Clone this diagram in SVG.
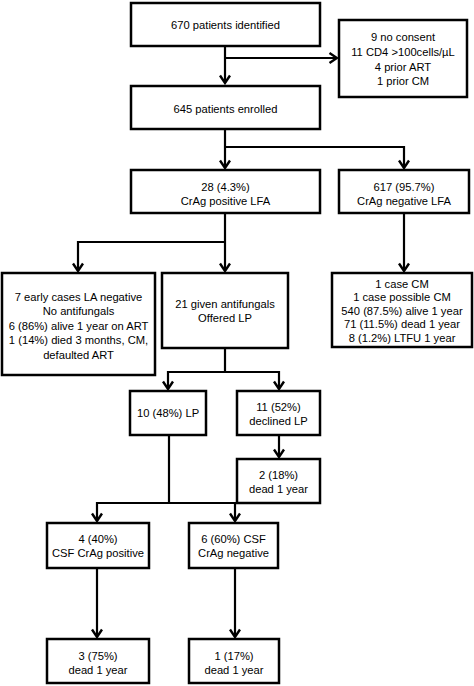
<svg xmlns="http://www.w3.org/2000/svg" width="474" height="686" viewBox="0 0 474 686">
<style>
.box{fill:#fff;stroke:#000;stroke-width:2.5}
text{font-family:"Liberation Sans",Arial,sans-serif;font-size:11.2px;fill:#000;text-anchor:middle}
.c{fill:none;stroke:#000;stroke-width:2.2}
</style>
<defs>
<marker id="ah" viewBox="-10 -6 12 12" refX="0" refY="0" markerWidth="12" markerHeight="12" markerUnits="userSpaceOnUse" orient="auto">
<path d="M-7.5,-5 L0,0 L-7.5,5" fill="none" stroke="#000" stroke-width="2.4"/>
</marker>
</defs>
<rect width="474" height="686" fill="#fff"/>
<g id="connectors">
<path class="c" d="M225,46 V83" marker-end="url(#ah)"/>
<path class="c" d="M225,58 H337" marker-end="url(#ah)"/>
<path class="c" d="M225,129 V168"  marker-end="url(#ah)"/>
<path class="c" d="M225,147 H404 V168" marker-end="url(#ah)"/>
<path class="c" d="M225,213 V271" marker-end="url(#ah)"/>
<path class="c" d="M225,242 H78 V271" marker-end="url(#ah)"/>
<path class="c" d="M404,213 V271" marker-end="url(#ah)"/>
<path class="c" d="M225,348 V372 H168 V389" marker-end="url(#ah)"/>
<path class="c" d="M225,372 H279 V389" marker-end="url(#ah)"/>
<path class="c" d="M279,435 V457" marker-end="url(#ah)"/>
<path class="c" d="M169,435 V503 H97 V521" marker-end="url(#ah)"/>
<path class="c" d="M169,503 H235 V521" marker-end="url(#ah)"/>
<path class="c" d="M97,568 V637" marker-end="url(#ah)"/>
<path class="c" d="M235,568 V637" marker-end="url(#ah)"/>
</g>
<g id="identified">
<rect class="box" x="131" y="3" width="189" height="43"/>
<text x="225.5" y="28.5">670 patients identified</text>
</g>
<g id="excluded">
<rect class="box" x="339" y="20" width="128" height="77"/>
<text x="403" y="41">9 no consent</text>
<text x="403" y="56">11 CD4 &gt;100cells/µL</text>
<text x="403" y="71">4 prior ART</text>
<text x="403" y="85">1 prior CM</text>
</g>
<g id="enrolled">
<rect class="box" x="131" y="86" width="189" height="43"/>
<text x="225.5" y="112.5">645 patients enrolled</text>
</g>
<g id="crag-pos">
<rect class="box" x="131" y="170" width="189" height="43"/>
<text x="225.5" y="191">28 (4.3%)</text>
<text x="225.5" y="205">CrAg positive LFA</text>
</g>
<g id="crag-neg">
<rect class="box" x="339" y="170" width="130" height="43"/>
<text x="404" y="191">617 (95.7%)</text>
<text x="404" y="205">CrAg negative LFA</text>
</g>
<g id="early">
<rect class="box" x="2" y="273" width="153" height="102"/>
<text x="78.5" y="300.5">7 early cases LA negative</text>
<text x="78.5" y="315">No antifungals</text>
<text x="78.5" y="329.5">6 (86%) alive 1 year on ART</text>
<text x="78.5" y="344">1 (14%) died 3 months, CM,</text>
<text x="78.5" y="358.5">defaulted ART</text>
</g>
<g id="antifungals">
<rect class="box" x="162" y="273" width="126" height="75"/>
<text x="225" y="308">21 given antifungals</text>
<text x="225" y="322">Offered LP</text>
</g>
<g id="neg-outcome">
<rect class="box" x="332" y="273" width="140" height="74"/>
<text x="402" y="287.5">1 case CM</text>
<text x="402" y="301">1 case possible CM</text>
<text x="402" y="314.5">540 (87.5%) alive 1 year</text>
<text x="402" y="328">71 (11.5%) dead 1 year</text>
<text x="402" y="341.5">8 (1.2%) LTFU 1 year</text>
</g>
<g id="lp">
<rect class="box" x="130" y="391" width="76" height="44"/>
<text x="168" y="417">10 (48%) LP</text>
</g>
<g id="declined">
<rect class="box" x="237" y="391" width="83" height="44"/>
<text x="278.5" y="410.5">11 (52%)</text>
<text x="278.5" y="425">declined LP</text>
</g>
<g id="declined-dead">
<rect class="box" x="237" y="459" width="83" height="44"/>
<text x="278.5" y="478.5">2 (18%)</text>
<text x="278.5" y="492.5">dead 1 year</text>
</g>
<g id="csf-pos">
<rect class="box" x="47" y="523" width="102" height="45"/>
<text x="98" y="543">4 (40%)</text>
<text x="98" y="557">CSF CrAg positive</text>
</g>
<g id="csf-neg">
<rect class="box" x="189" y="523" width="89" height="45"/>
<text x="233.5" y="543">6 (60%) CSF</text>
<text x="233.5" y="557">CrAg negative</text>
</g>
<g id="pos-dead">
<rect class="box" x="47" y="639" width="102" height="44"/>
<text x="98" y="659.5">3 (75%)</text>
<text x="98" y="674">dead 1 year</text>
</g>
<g id="neg-dead">
<rect class="box" x="189" y="639" width="90" height="44"/>
<text x="234" y="659.5">1 (17%)</text>
<text x="234" y="674">dead 1 year</text>
</g>
</svg>
